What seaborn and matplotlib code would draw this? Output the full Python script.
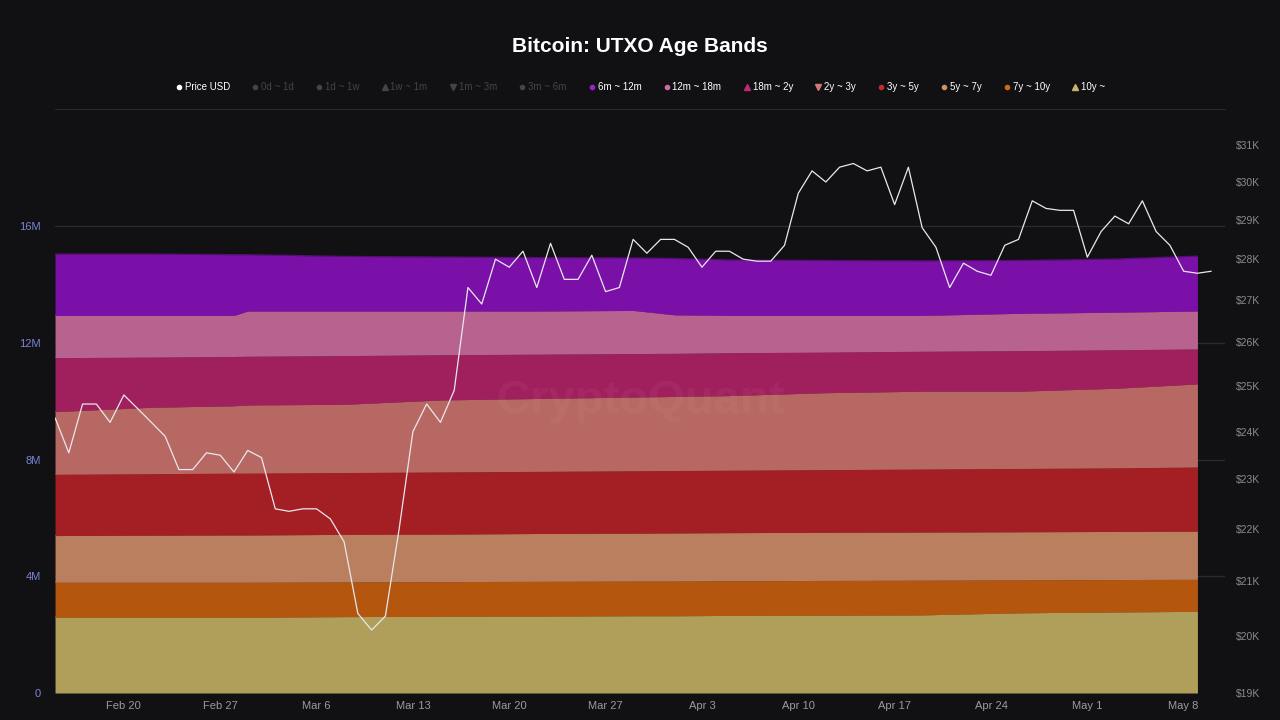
import numpy as np
import pandas as pd
import seaborn as sns
import matplotlib
matplotlib.use("Agg")
import matplotlib.pyplot as plt
from matplotlib.lines import Line2D
import matplotlib.dates as mdates

sns.set_style("dark")
plt.rcParams['font.family'] = ['Liberation Sans', 'DejaVu Sans']

price_dates = pd.date_range("2023-02-15", "2023-05-10", freq="D")
price_usd = [24.3,23.55,24.6,24.6,24.2,24.8,24.5,24.2,23.9,23.2,23.2,23.55,23.5,23.15,23.6,23.45,
             22.4,22.35,22.4,22.4,22.2,21.75,20.4,20.1,20.35,22.0,24.0,24.6,24.2,24.9,27.3,26.9,
             28.0,27.8,28.2,27.3,28.4,27.5,27.5,28.1,27.2,27.3,28.5,28.15,28.5,28.5,28.3,27.8,
             28.2,28.2,28.0,27.95,27.95,28.35,29.7,30.3,30.0,30.4,30.5,30.3,30.4,29.4,30.4,28.8,
             28.3,27.3,27.9,27.7,27.6,28.35,28.5,29.5,29.3,29.25,29.25,28.05,28.7,29.1,28.9,29.5,
             28.7,28.35,27.7,27.65,27.7]
price_usd = [p * 1000 for p in price_usd]

band_dates = pd.to_datetime(["2023-02-15","2023-02-22","2023-02-28","2023-03-01","2023-03-08","2023-03-15",
                             "2023-03-22","2023-03-29","2023-04-01","2023-04-05","2023-04-12","2023-04-19",
                             "2023-04-26","2023-05-03","2023-05-09"])
# cumulative band tops (millions BTC)
top_10y      = [2.6,2.6,2.6,2.6,2.62,2.63,2.64,2.65,2.65,2.66,2.67,2.68,2.75,2.78,2.8]
top_7y_10y   = [3.8,3.8,3.8,3.8,3.81,3.82,3.83,3.84,3.84,3.85,3.86,3.87,3.88,3.89,3.9]
top_5y_7y    = [5.4,5.41,5.42,5.42,5.44,5.45,5.47,5.48,5.49,5.5,5.51,5.52,5.53,5.54,5.55]
top_3y_5y    = [7.5,7.52,7.54,7.54,7.56,7.58,7.6,7.62,7.63,7.64,7.66,7.68,7.7,7.72,7.75]
top_2y_3y    = [9.65,9.8,9.85,9.88,9.9,10.05,10.1,10.15,10.17,10.2,10.3,10.35,10.35,10.45,10.6]
top_18m_2y   = [11.5,11.52,11.54,11.55,11.57,11.6,11.62,11.64,11.65,11.67,11.69,11.72,11.74,11.77,11.8]
top_12m_18m  = [12.95,12.95,12.95,13.1,13.1,13.1,13.1,13.12,12.97,12.95,12.95,12.95,13.02,13.06,13.1]
top_6m_12m   = [15.05,15.05,15.03,15.03,14.97,14.95,14.93,14.92,14.9,14.85,14.83,14.82,14.83,14.88,14.98]

band_names = ["10y ~","7y ~ 10y","5y ~ 7y","3y ~ 5y","2y ~ 3y","18m ~ 2y","12m ~ 18m","6m ~ 12m"]
band_tops = [top_10y, top_7y_10y, top_5y_7y, top_3y_5y, top_2y_3y, top_18m_2y, top_12m_18m, top_6m_12m]
band_colors = ["#B09F5A","#B5560F","#B97F5E","#A31F23","#B86862","#A0205E","#B8628F","#7B10A8"]

bg = "#111114"
fig = plt.figure(figsize=(12.8, 7.2), dpi=100, facecolor=bg)
ax = fig.add_axes([0.043, 0.0375, 0.914, 0.81])
ax.set_facecolor(bg)
ax.grid(False)
for v in [4, 8, 12, 16]:
    ax.axhline(v, color="#2a2a2e", lw=1, zorder=0)

bottom = np.zeros(len(band_dates))
for name, top, col in zip(band_names, band_tops, band_colors):
    top = np.array(top)
    ax.fill_between(band_dates, bottom, top, color=col, lw=0, zorder=2)
    ax.plot(band_dates, top, color=col, lw=1, alpha=0.6, zorder=2)
    bottom = top

ax.set_xlim(pd.Timestamp("2023-02-15"), pd.Timestamp("2023-05-11"))
ax.set_ylim(0, 20)
ax.set_yticks([0, 4, 8, 12, 16])
ax.set_yticklabels(["0", "4M", "8M", "12M", "16M"])
ax.tick_params(axis="y", colors="#7b83d6", labelsize=8, length=0, pad=10)
ticks = pd.date_range("2023-02-20", "2023-05-08", freq="7D")
ax.set_xticks(ticks)
ax.set_xticklabels([d.strftime("%b %-d") for d in ticks])
ax.tick_params(axis="x", colors="#9a9aa0", labelsize=8, length=0, pad=6)
for s in ax.spines.values():
    s.set_visible(False)

ax2 = ax.twinx()
sns.lineplot(x=price_dates, y=price_usd, ax=ax2, color="#e8e8ee", lw=0.9, zorder=5)
ax2.set_yscale("log")
ax2.set_ylim(19000, 32000)
rt = [19000 + 1000 * i for i in range(13)]
ax2.set_yticks(rt)
ax2.set_yticklabels([f"${v//1000}K" for v in rt])
ax2.yaxis.set_minor_locator(matplotlib.ticker.NullLocator())
ax2.tick_params(axis="y", colors="#8a8a90", labelsize=7.5, length=0, pad=8)
ax2.set_ylabel("")
ax2.grid(False)
for s in ax2.spines.values():
    s.set_visible(False)

ax.text(0.5, 0.5, "CryptoQuant", transform=ax.transAxes, ha="center", va="center",
        fontsize=34, color="white", alpha=0.04, fontweight="bold", zorder=3)

fig.text(0.5, 0.935, "Bitcoin: UTXO Age Bands", ha="center", va="center",
         color="white", fontsize=15, fontweight="bold")

leg_items = [("Price USD", "o", "white", "white"),
             ("0d ~ 1d", "o", "#444", "#444"), ("1d ~ 1w", "o", "#444", "#444"),
             ("1w ~ 1m", "^", "#444", "#444"), ("1m ~ 3m", "v", "#444", "#444"),
             ("3m ~ 6m", "o", "#444", "#444"),
             ("6m ~ 12m", "o", "#9b20d0", "white"), ("12m ~ 18m", "o", "#d06a9f", "white"),
             ("18m ~ 2y", "^", "#c02a6e", "white"), ("2y ~ 3y", "v", "#d07a72", "white"),
             ("3y ~ 5y", "o", "#c5282d", "white"), ("5y ~ 7y", "o", "#d09060", "white"),
             ("7y ~ 10y", "o", "#d06a10", "white"), ("10y ~", "^", "#c9b46a", "white")]
handles = [Line2D([], [], marker=m, ls="", color=c, markersize=3 if m == "o" else 5) for _, m, c, _ in leg_items]
leg = fig.legend(handles, [l for l, _, _, _ in leg_items], loc="center", bbox_to_anchor=(0.5, 0.879),
                 ncol=14, frameon=False, fontsize=7, handletextpad=0.2, columnspacing=2.2,
                 handlelength=0.8)
for t, (_, _, _, tc) in zip(leg.get_texts(), leg_items):
    t.set_color(tc)
fig.add_artist(Line2D([0.043, 0.957], [0.848, 0.848], color="#2a2a2e", lw=0.8))

fig.savefig("out.png", dpi=100, facecolor=bg)
